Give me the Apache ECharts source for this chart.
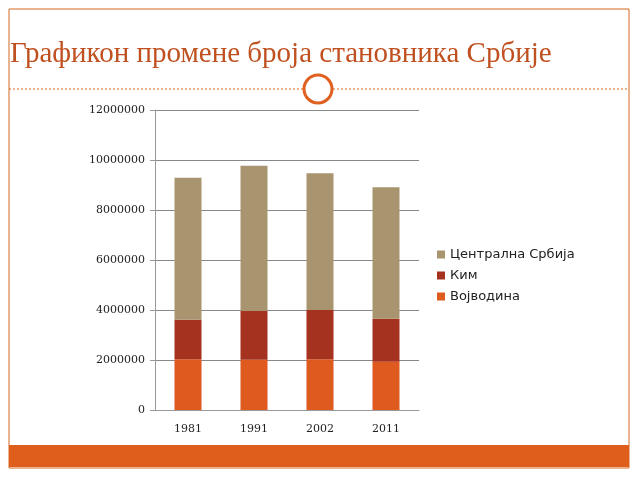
<!DOCTYPE html>
<html><head><meta charset="utf-8">
<script src="https://cdn.jsdelivr.net/npm/echarts@6/dist/echarts.min.js"></script>
<style>body{margin:0}#c{width:638px;height:479px}</style></head>
<body><div id="c"></div>
<script>
var years = ['1981', '1991', '2002', '2011'];
var vojvodina = [2030000, 2010000, 2030000, 1930000];
var kim = [1580000, 1950000, 1970000, 1720000];
var centralna = [5680000, 5810000, 5470000, 5260000];

var chart = echarts.init(document.getElementById('c'));
var option = {
    animation: false,
    backgroundColor: '#fff',
    textStyle: { fontFamily: 'DejaVu Serif' },
    graphic: [
        { type: 'rect', shape: { x: 9, y: 9, width: 620, height: 459 }, style: { fill: 'none', stroke: '#d2691e', lineWidth: 1 } },
        { type: 'text', left: 10, top: 40, style: { text: 'Графикон промене броја становника Србије', fill: '#c0501f', font: '29px "Liberation Serif"' } },
        { type: 'line', shape: { x1: 9, y1: 89, x2: 629, y2: 89 }, style: { stroke: '#d2691e', lineDash: [2, 2], lineWidth: 1 } },
        { type: 'circle', shape: { cx: 318, cy: 89, r: 14 }, style: { fill: '#fff', stroke: '#e06020', lineWidth: 3 } },
        { type: 'rect', shape: { x: 9, y: 445, width: 620, height: 22 }, style: { fill: '#e05e1c' } }
    ],
    grid: { left: 155, right: 219, top: 110, bottom: 69 },
    legend: {
        orient: 'vertical', left: 432, top: 243, itemWidth: 8, itemHeight: 8, itemGap: 8,
        icon: 'rect',
        textStyle: { fontFamily: 'DejaVu Sans', fontSize: 13, color: '#222' },
        data: ['Централна Србија', 'Ким', 'Војводина']
    },
    xAxis: {
        type: 'category', data: years,
        axisLine: { lineStyle: { color: '#999' } },
        axisTick: { show: false },
        axisLabel: { color: '#222', fontSize: 11, margin: 14 }
    },
    yAxis: {
        type: 'value', min: 0, max: 12000000, interval: 2000000,
        axisLine: { show: true, lineStyle: { color: '#999' } },
        axisTick: { show: true, lineStyle: { color: '#999' } },
        splitLine: { lineStyle: { color: '#888' } },
        axisLabel: { color: '#222', fontSize: 11, margin: 10, formatter: function (v) { return String(v); } }
    },
    series: [
        { name: 'Војводина', type: 'bar', stack: 's', data: vojvodina, barWidth: 27, itemStyle: { color: '#de5a1e' } },
        { name: 'Ким', type: 'bar', stack: 's', data: kim, itemStyle: { color: '#a5321f' } },
        { name: 'Централна Србија', type: 'bar', stack: 's', data: centralna, itemStyle: { color: '#a8946f' } }
    ]
};
chart.setOption(option);
</script></body></html>
